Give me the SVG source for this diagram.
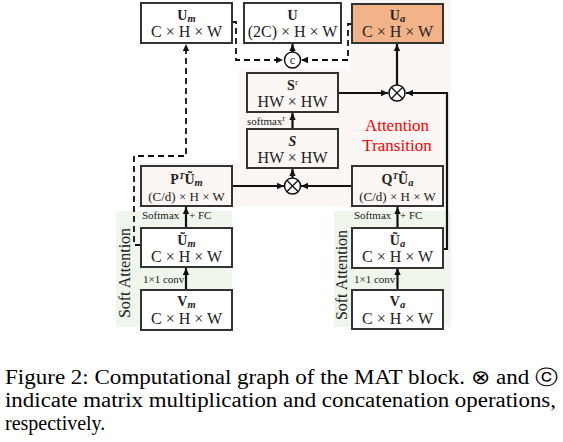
<svg xmlns="http://www.w3.org/2000/svg" width="563" height="442" viewBox="0 0 563 442">
<style>
text{font-family:"Liberation Serif","Times New Roman",serif;fill:#222}
.box{fill:#fff;stroke:#333;stroke-width:2}
.pbox{fill:#fcf7f4;stroke:#333;stroke-width:2}
.ttl{font-size:14px;font-weight:bold;text-anchor:middle}
.dim{font-size:16px;text-anchor:middle}
.dim2{font-size:13px;text-anchor:middle}
.lbl{font-size:11px}
.solid{fill:none;stroke:#111;stroke-width:2.2}
.dash{fill:none;stroke:#111;stroke-width:1.8;stroke-dasharray:6,4}
.op{fill:#fff;stroke:#111;stroke-width:1.5}
.cap{font-size:20px;fill:#000}
.sa{font-size:16px;text-anchor:middle}
</style>
<defs>
<marker id="ah" markerUnits="userSpaceOnUse" markerWidth="8" markerHeight="8" refX="7" refY="4" orient="auto">
<path d="M0,0.8 L7,4 L0,7.2 Z" fill="#111"/>
</marker>
</defs>

<g id="backgrounds">
<path d="M350,0 H451 V207 H133 V163 H239 V68 H350 Z" fill="#fcf7f4"/>
<rect x="116" y="211" width="116" height="116" fill="#eff6ec"/>
<rect x="334" y="211" width="117" height="116" fill="#eff6ec"/>
</g>

<g id="connectors">
<path class="dash" d="M232,22 H236 V60 H283" marker-end="url(#ah)"/>
<path class="dash" d="M352,24 H348 V60 H301" marker-end="url(#ah)"/>
<path class="solid" d="M292.5,52 V44" marker-end="url(#ah)"/>
<path class="solid" d="M338,93 H388" marker-end="url(#ah)"/>
<path class="solid" d="M443,249 H447 V93 H406" marker-end="url(#ah)"/>
<path class="solid" d="M397,85 V44" marker-end="url(#ah)"/>
<path class="solid" d="M292.5,129 V113" marker-end="url(#ah)"/>
<path class="solid" d="M292.5,178 V169" marker-end="url(#ah)"/>
<path class="solid" d="M232,186 H284" marker-end="url(#ah)"/>
<path class="solid" d="M352,186 H301" marker-end="url(#ah)"/>
<path class="solid" d="M186,228 V207" marker-end="url(#ah)"/>
<path class="solid" d="M186,290 V268" marker-end="url(#ah)"/>
<path class="solid" d="M397.5,228 V207" marker-end="url(#ah)"/>
<path class="solid" d="M397.5,290 V268" marker-end="url(#ah)"/>
<path class="dash" d="M141,245 H134 V156 H186 V44" marker-end="url(#ah)"/>
</g>

<g id="labels">
<text x="247" y="125" font-size="11">softmax<tspan font-size="8" dy="-4">r</tspan></text>
<text class="lbl" x="142" y="219">Softmax</text>
<text class="lbl" x="189" y="219">+ FC</text>
<text class="lbl" x="143" y="283">1×1 conv</text>
<text class="lbl" x="354" y="219">Softmax</text>
<text class="lbl" x="400" y="219">+ FC</text>
<text class="lbl" x="354" y="283">1×1 conv</text>
<text class="sa" transform="translate(130,273) rotate(-90)">Soft Attention</text>
<text class="sa" transform="translate(347,275) rotate(-90)">Soft Attention</text>
<text x="397" y="131" font-size="17" text-anchor="middle" style="fill:#f00">Attention</text>
<text x="397" y="151" font-size="17" text-anchor="middle" style="fill:#f00">Transition</text>
</g>

<g id="node-Um">
<rect class="box" x="141" y="3" width="91" height="40"/>
<text class="ttl" x="186.5" y="20">U<tspan font-style="italic" font-size="10.5" dy="1.5">m</tspan></text>
<text class="dim" x="186.5" y="37">C × H × W</text>
</g>
<g id="node-U">
<rect class="box" x="244" y="3" width="97" height="40"/>
<text class="ttl" x="292.5" y="20">U</text>
<text class="dim" x="292.5" y="37" font-size="15.5">(2C) × H × W</text>
</g>
<g id="node-Ua">
<rect x="352" y="4" width="91" height="39" fill="#f3b388" stroke="#333" stroke-width="2"/>
<text class="ttl" x="397.5" y="20">U<tspan font-style="italic" font-size="10.5" dy="1.5">a</tspan></text>
<text class="dim" x="397.5" y="37">C × H × W</text>
</g>
<g id="node-concat">
<circle class="op" cx="292.5" cy="60" r="8"/>
<text x="292.5" y="64" font-size="12" text-anchor="middle">c</text>
</g>
<g id="node-mul-top">
<circle class="op" cx="397" cy="93" r="8"/>
<path d="M391.3,87.3 L402.7,98.7 M402.7,87.3 L391.3,98.7" stroke="#111" stroke-width="1.3"/>
</g>
<g id="node-Sr">
<rect class="pbox" x="247" y="73" width="91" height="39"/>
<text class="ttl" x="292.5" y="90">S<tspan font-size="9" dy="-5" font-weight="normal">r</tspan></text>
<text class="dim" x="292.5" y="107">HW × HW</text>
</g>
<g id="node-S">
<rect class="pbox" x="247" y="129" width="91" height="39"/>
<text class="ttl" x="292.5" y="146" font-style="italic">S</text>
<text class="dim" x="292.5" y="163">HW × HW</text>
</g>
<g id="node-mul-mid">
<circle class="op" cx="292.5" cy="186" r="8"/>
<path d="M286.8,180.3 L298.2,191.7 M298.2,180.3 L286.8,191.7" stroke="#111" stroke-width="1.3"/>
</g>
<g id="node-PUm">
<rect class="pbox" x="141" y="166" width="91" height="40"/>
<text class="ttl" x="186.5" y="184">P<tspan font-style="italic" font-size="9" dy="-5">T</tspan><tspan dy="5">Ũ</tspan><tspan font-style="italic" font-size="10.5" dy="1.5">m</tspan></text>
<text class="dim2" x="186.5" y="201">(C/d) × H × W</text>
</g>
<g id="node-QUa">
<rect class="pbox" x="352" y="166" width="91" height="40"/>
<text class="ttl" x="397.5" y="184">Q<tspan font-style="italic" font-size="9" dy="-5">T</tspan><tspan dy="5">Ũ</tspan><tspan font-style="italic" font-size="10.5" dy="1.5">a</tspan></text>
<text class="dim2" x="397.5" y="201">(C/d) × H × W</text>
</g>
<g id="node-tUm">
<rect class="box" x="141" y="228" width="91" height="39"/>
<text class="ttl" x="186.5" y="245">Ũ<tspan font-style="italic" font-size="10.5" dy="1.5">m</tspan></text>
<text class="dim" x="186.5" y="262">C × H × W</text>
</g>
<g id="node-tUa">
<rect class="box" x="352" y="228" width="91" height="40"/>
<text class="ttl" x="397.5" y="245">Ũ<tspan font-style="italic" font-size="10.5" dy="1.5">a</tspan></text>
<text class="dim" x="397.5" y="262">C × H × W</text>
</g>
<g id="node-Vm">
<rect class="box" x="141" y="290" width="91" height="40"/>
<text class="ttl" x="186.5" y="306">V<tspan font-style="italic" font-size="10.5" dy="1.5">m</tspan></text>
<text class="dim" x="186.5" y="324">C × H × W</text>
</g>
<g id="node-Va">
<rect class="box" x="352" y="290" width="91" height="39"/>
<text class="ttl" x="397.5" y="306">V<tspan font-style="italic" font-size="10.5" dy="1.5">a</tspan></text>
<text class="dim" x="397.5" y="324">C × H × W</text>
</g>

<g id="caption">
<text class="cap" x="5" y="384" textLength="553" lengthAdjust="spacingAndGlyphs">Figure 2: Computational graph of the MAT block. ⊗ and ⓒ</text>
<text class="cap" x="5" y="407" textLength="551" lengthAdjust="spacingAndGlyphs">indicate matrix multiplication and concatenation operations,</text>
<text class="cap" x="5" y="430">respectively.</text>
</g>
</svg>
